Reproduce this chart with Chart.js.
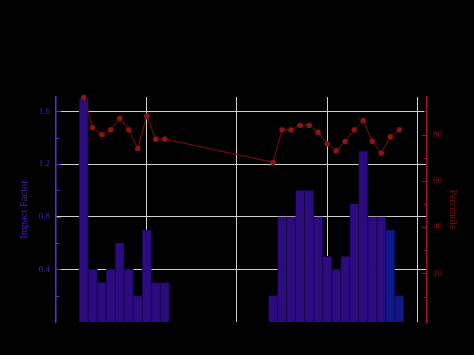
<!DOCTYPE html>
<html>
<head>
<meta charset="utf-8">
<script src="https://cdn.jsdelivr.net/npm/chart.js@4/dist/chart.umd.min.js"></script>
<style>
  html, body { margin: 0; padding: 0; background: #000; }
  canvas { display: block; }
</style>
</head>
<body>
<canvas id="chart" width="474" height="355"></canvas>
<script>
// data
const years = [1983, 1984, 1985, 1986, 1987, 1988, 1989, 1990, 1991, 1992,
               2004, 2005, 2006, 2007, 2008, 2009, 2010, 2011, 2012, 2013, 2014, 2015, 2016, 2017, 2018];
const impactFactor = [1.7, 0.4, 0.3, 0.4, 0.6, 0.4, 0.2, 0.7, 0.3, 0.3,
                      0.2, 0.8, 0.8, 1.0, 1.0, 0.8, 0.5, 0.4, 0.5, 0.9, 1.3, 0.8, 0.8, 0.7, 0.2];
const percentile = [96, 83, 80, 82, 87, 82, 74, 88, 78, 78,
                    68, 82, 82, 84, 84, 81, 76, 73, 77, 82, 86, 77, 72, 79, 82];
const yearTicks = [1990, 2000, 2010, 2020];
const ifTicks = [0.2, 0.4, 0.6, 0.8, 1.0, 1.2, 1.4, 1.6];
const pctTicks = [10, 20, 30, 40, 50, 60, 70, 80, 90];

const FONT = '"Liberation Serif", "DejaVu Serif", serif';
const PURPLE = '#4a22b0';
const RED = '#8c1418';
const GRID = '#cfcfcf';

const isMajorIF = v => v > 0 && Math.abs(v / 0.4 - Math.round(v / 0.4)) < 1e-6;

// redraw the percentile line on top of the grid (grid sits above the bars),
// and add the small inward tick marks on both spines
const overlay = {
    id: 'overlay',
    afterDraw(chart) {
        const meta = chart.getDatasetMeta(1);
        if (meta && meta.controller) meta.controller.draw();

        const ctx = chart.ctx;
        const y = chart.scales.y, y1 = chart.scales.y1;
        ctx.save();
        ctx.lineWidth = 1;
        ctx.strokeStyle = '#5a2ee0';
        ifTicks.forEach(v => {
            const py = Math.round(y.getPixelForValue(v)) + 0.5;
            ctx.beginPath();
            ctx.moveTo(y.right, py);
            ctx.lineTo(y.right + (isMajorIF(v) ? 5 : 3), py);
            ctx.stroke();
        });
        ctx.strokeStyle = '#a8101e';
        pctTicks.forEach(v => {
            const py = Math.round(y1.getPixelForValue(v)) + 0.5;
            ctx.beginPath();
            ctx.moveTo(y1.left, py);
            ctx.lineTo(y1.left - (v % 20 === 0 ? 5 : 3), py);
            ctx.stroke();
        });
        ctx.restore();
    }
};

new Chart(document.getElementById('chart').getContext('2d'), {
    data: {
        datasets: [
            {
                type: 'bar',
                label: 'Impact Factor',
                data: years.map((y, i) => ({ x: y, y: impactFactor[i] })),
                yAxisID: 'y',
                backgroundColor: ctx => (ctx.raw && ctx.raw.x >= 2017) ? '#0c188c' : '#2c0b80',
                borderColor: '#16063f',
                borderWidth: 0.8,
                barPercentage: 1,
                categoryPercentage: 1
            },
            {
                type: 'line',
                label: 'Percentile',
                data: years.map((y, i) => ({ x: y, y: percentile[i] })),
                yAxisID: 'y1',
                borderColor: '#6a0c0e',
                borderWidth: 1,
                pointRadius: 2.6,
                pointBorderWidth: 0,
                pointBackgroundColor: '#8a1416',
                tension: 0,
                clip: false
            }
        ]
    },
    options: {
        responsive: false,
        animation: false,
        layout: { padding: { top: 97, left: 0, right: 0, bottom: 0 } },
        plugins: {
            legend: { display: false },
            tooltip: { enabled: false }
        },
        scales: {
            x: {
                type: 'linear',
                min: 1979.93,
                max: 2021.07,
                offset: false,
                z: 1,
                afterBuildTicks: scale => { scale.ticks = yearTicks.map(v => ({ value: v })); },
                afterFit: scale => { scale.height = 33; },
                border: { display: false },
                grid: { color: GRID, lineWidth: 1, drawTicks: false, offset: false },
                ticks: {
                    color: '#000',
                    font: { family: FONT, size: 9 },
                    padding: 6
                }
            },
            y: {
                position: 'left',
                min: 0,
                max: 1.71,
                z: 1,
                afterBuildTicks: scale => { scale.ticks = ifTicks.map(v => ({ value: v })); },
                afterFit: scale => { scale.width = 56; },
                border: { display: true, color: '#5a2ee0', width: 1.5 },
                grid: {
                    drawTicks: false,
                    lineWidth: 1,
                    color: ctx => (ctx.tick && isMajorIF(ctx.tick.value)) ? GRID : 'rgba(0,0,0,0)'
                },
                ticks: {
                    color: PURPLE,
                    font: { family: FONT, size: 9 },
                    padding: 6,
                    callback: v => isMajorIF(v) ? v.toFixed(1) : ''
                },
                title: {
                    display: true,
                    text: 'Impact Factor',
                    color: PURPLE,
                    font: { family: FONT, size: 10.5 },
                    padding: { top: 18, bottom: 0 }
                }
            },
            y1: {
                position: 'right',
                min: -1,
                max: 96.2,
                z: 1,
                afterBuildTicks: scale => { scale.ticks = [20, 40, 60, 80].map(v => ({ value: v })); },
                afterFit: scale => { scale.width = 47; },
                border: { display: true, color: '#a8101e', width: 1.5 },
                grid: { drawOnChartArea: false, drawTicks: false },
                ticks: {
                    color: RED,
                    font: { family: FONT, size: 9 },
                    padding: 6
                },
                title: {
                    display: true,
                    text: 'Percentile',
                    color: RED,
                    font: { family: FONT, size: 10 },
                    padding: { top: 15, bottom: 0 }
                }
            }
        }
    },
    plugins: [overlay]
});
</script>
</body>
</html>
